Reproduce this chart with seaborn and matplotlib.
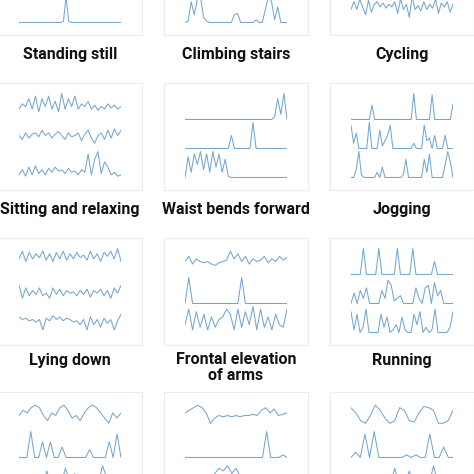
import matplotlib
matplotlib.use("Agg")
import matplotlib.pyplot as plt
import seaborn as sns
import pandas as pd

sns.set_style("white")
plt.rcParams['font.family'] = ['Roboto', 'DejaVu Sans']

titles = ["Standing still", "Climbing stairs", "Cycling",
          "Sitting and relaxing", "Waist bends forward", "Jogging",
          "Lying down", "Frontal elevation\nof arms", "Running"]

# row 1 (only the lowest trace is visible)
standing = [[0, 0, 0, 0, 0, 0, 0, 0, 0, 0, 0, 0, 0, 0, 0, 0, 0, 0.05, 1.0, 0.05, 0, 0, 0, 0, 0, 0, 0, 0, 0, 0, 0, 0, 0, 0, 0, 0, 0, 0, 0, 0]]
stairs = [[0, 0.05, 0.8, 0.3, 0.9, 1.0, 0.2, 0.05, 0, 0, 0, 0, 0, 0, 0, 0, 0.3, 0.35, 0, 0, 0, 0, 0, 0.1, 0, 0, 0.5, 1.0, 0.8, 0.1, 0.6, 0, 0, 0]]
cycling = [[0.5, 0.8, 0.5, 0.9, 0.6, 0.3, 0.85, 0.4, 0.7, 0.8, 0.6, 0.75, 0.55, 0.7, 0.6, 0.8, 0.35, 0.9, 0.5, 0.7, 0.2, 1.0, 0.5, 0.65, 0.45, 0.8, 0.5, 0.7, 0.55, 0.9, 0.35, 0.75, 0.6, 0.8, 0.4, 0.7]]

# row 2
sitting = [[0.4, 0.6, 0.5, 0.8, 0.4, 0.9, 0.3, 0.8, 0.5, 0.9, 0.4, 0.7, 0.3, 1.0, 0.4, 0.8, 0.5, 0.9, 0.4, 0.6, 0.5, 0.7, 0.4, 0.55, 0.35, 0.5, 0.4, 0.6, 0.45, 0.55, 0.4, 0.5],
           [0.5, 0.35, 0.6, 0.4, 0.55, 0.6, 0.45, 0.7, 0.5, 0.6, 0.4, 0.55, 0.65, 0.5, 0.35, 0.6, 0.45, 0.5, 0.6, 0.3, 0.55, 0.7, 0.4, 0.2, 0.5, 0.6, 0.35, 0.7, 0.4, 0.75, 0.5, 0.7],
           [0.1, 0.3, 0.05, 0.4, 0.1, 0.45, 0.15, 0.3, 0.1, 0.35, 0.2, 0.4, 0.25, 0.3, 0.15, 0.35, 0.2, 0.25, 0.1, 0.3, 0.2, 0.9, 0.1, 0.7, 1.0, 0.15, 0.6, 0.4, 0.1, 0.2, 0.05, 0.1]]
waist = [[0, 0, 0, 0, 0, 0, 0, 0, 0, 0, 0, 0, 0, 0, 0, 0, 0, 0, 0, 0, 0, 0, 0, 0, 0, 0, 0, 0, 0, 0.1, 0.8, 0.2, 1.0, 0.0],
         [0, 0, 0, 0, 0, 0, 0, 0, 0, 0, 0, 0, 0, 0, 0, 0.5, 0, 0, 0, 0, 0, 0, 1.0, 0, 0, 0, 0, 0, 0, 0, 0, 0, 0, 0],
         [0, 0.8, 0.2, 0.9, 0.5, 1.0, 0.3, 0.9, 0.2, 1.0, 0.4, 0.9, 0.2, 0.7, 0.05, 0, 0, 0, 0, 0, 0, 0, 0, 0, 0, 0, 0, 0, 0, 0, 0, 0, 0, 0]]
jogging = [[0, 0, 0, 0, 0, 0, 0, 0, 0.55, 0, 0, 0, 0, 0, 0, 0, 0, 0, 0, 0, 0, 0, 0, 0, 1.0, 0, 0, 0, 0, 0, 0, 0.95, 0, 0, 0, 0, 0, 0, 0, 0.6],
           [0.9, 0.2, 0.6, 0, 0, 0, 0, 1.0, 0, 0, 0, 0.7, 0.1, 0.3, 0.5, 0.9, 0, 0, 0, 0, 0, 0, 0, 0, 0.2, 0, 0, 0, 0.9, 0.3, 0.4, 0, 0.5, 0, 0, 0, 0.5, 0, 0, 0],
           [0, 0, 0.3, 1.0, 0.1, 0, 0, 0, 0, 0, 0.2, 0, 0.4, 0, 0, 0, 0, 0, 0, 0, 0.1, 0.7, 0, 0, 0, 0, 0, 0, 0.7, 0.2, 0.9, 0, 0, 0, 0, 0, 0.5, 1.0, 0.6, 0]]

# row 3
lying = [[0.6, 0.9, 0.5, 0.85, 0.6, 0.8, 0.65, 0.9, 0.55, 0.8, 0.5, 0.85, 0.6, 0.9, 0.55, 0.8, 0.6, 0.85, 0.65, 0.75, 0.55, 0.9, 0.6, 0.8, 0.5, 0.85, 0.7, 0.9, 0.6, 1.0, 0.5],
         [0.7, 0.2, 0.6, 0.3, 0.5, 0.35, 0.6, 0.3, 0.4, 0.2, 0.6, 0.35, 0.55, 0.3, 0.5, 0.4, 0.45, 0.3, 0.5, 0.35, 0.55, 0.25, 0.5, 0.4, 0.55, 0.3, 0.5, 0.2, 0.6, 0.4, 0.7],
         [0.6, 0.5, 0.55, 0.45, 0.5, 0.4, 0.5, 0.1, 0.55, 0.45, 0.65, 0.5, 0.6, 0.45, 0.55, 0.5, 0.4, 0.45, 0.3, 0.5, 0.1, 0.6, 0.3, 0.5, 0.2, 0.55, 0.35, 0.5, 0.1, 0.45, 0.7]]
frontal = [[0.5, 0.7, 0.4, 0.6, 0.5, 0.45, 0.5, 0.4, 0.35, 0.45, 0.5, 0.55, 0.9, 0.6, 0.8, 0.5, 0.7, 0.4, 0.6, 0.5, 0.55, 0.7, 0.45, 0.6, 0.5, 0.7, 0.55, 0.65],
           [0, 1.0, 0, 0, 0, 0, 0, 0, 0, 0, 0, 0, 0, 0, 0, 1.0, 0, 0, 0, 0, 0, 0, 0, 0, 0, 0, 0, 0],
           [0.3, 0.9, 0.1, 0.8, 0.2, 0.7, 0.1, 0.6, 0.2, 0.5, 0.6, 0.9, 0.7, 0.1, 0.9, 0.2, 0.8, 0.3, 1.0, 0.1, 0.9, 0.2, 0.6, 0.1, 0.7, 0.3, 0.2, 0.9]]
running = [[0, 0, 0, 0, 1.0, 0, 0, 0, 0, 1.0, 0, 0, 0, 0, 0, 1.0, 0, 0, 0, 0, 1.0, 0, 0, 0, 0, 0, 0, 0.5, 0, 0, 0, 0, 0, 0],
           [0, 0.4, 0, 0.5, 0.2, 0.6, 0, 0, 0, 0, 0.5, 0.2, 0.9, 0.7, 0.1, 0.2, 0.3, 0, 0, 0, 0, 0.6, 0.2, 0, 0.6, 0.7, 0, 0.8, 0.3, 0.5, 0, 0, 0, 0],
           [0.8, 0.1, 0.7, 0, 0.2, 0.9, 0, 0, 0, 0, 0.7, 0.2, 0.6, 0, 0.1, 0.3, 0, 0.6, 0.1, 0, 0, 0.7, 0.3, 0.8, 0, 0.2, 0, 0.1, 0.9, 0, 0, 0, 0, 0.2, 0.8]]

# row 4 (lowest trace is cut off by the figure edge)
row4a = [[0.5, 0.7, 0.6, 0.8, 0.9, 0.8, 0.5, 0.3, 0.6, 0.5, 0.8, 0.9, 0.7, 0.4, 0.5, 0.3, 0.6, 0.8, 0.9, 0.8, 0.6, 0.4, 0.2, 0.6, 0.4, 0.6],
         [0, 0, 0, 1.0, 0, 0, 0.6, 0, 0.6, 0, 0, 0.4, 0, 0, 0, 0, 0, 0, 0.3, 0, 0, 0, 0, 0.6, 0, 0.9, 0],
         [0, 0, 0.2, 0, 0.1, 0, 0.6, 0, 0.3, 0, 0.7, 0.2, 0.5, 0, 0, 0, 0, 0, 0.8, 0.3, 0, 0, 0]]
row4b = [[0.6, 0.7, 0.8, 0.9, 0.8, 0.6, 0.2, 0.4, 0.5, 0.45, 0.5, 0.45, 0.5, 0.45, 0.5, 0.5, 0.55, 0.5, 0.7, 0.8, 0.6, 0.75, 0.5, 0.55, 0.6],
         [0, 0, 0, 0, 0, 0, 0, 0, 0, 0, 0, 0, 0, 0, 0, 0, 0, 0, 0, 0, 1.0, 0, 0, 0, 0.1, 0],
         [0, 0, 0, 0, 0, 0, 0, 0.5, 0.7, 0.6, 0.8, 0.5, 0.7, 0.4, 0, 0, 0, 0, 0, 0, 0, 0, 0, 0, 0]]
row4c = [[0.8, 0.6, 0.3, 0.2, 0.5, 0.9, 0.7, 0.4, 0.2, 0.3, 0.8, 0.7, 0.3, 0.25, 0.6, 0.85, 0.8, 0.7, 0.2, 0.2, 0.3, 0.7],
         [0, 0.2, 0, 0.9, 0, 1.0, 0, 0, 0, 0, 0, 0, 0.1, 0, 0.1, 0, 0, 0.9, 0, 0, 0.4, 0, 0],
         [0, 0, 0, 0, 0.3, 0, 0, 0, 0, 0.7, 0, 0, 0.6, 0, 0, 0, 0, 0.8, 0, 0, 0, 0]]

panels = [standing, stairs, cycling, sitting, waist, jogging, lying, frontal, running, row4a, row4b, row4c]

W = H = 474
fig = plt.figure(figsize=(4.74, 4.74), dpi=100)
line_color = "#76a6cd"
col_x = [-2, 164, 330]
row_y = [-72, 83, 238, 392]
box_w, box_h = 144, 107
title_y = [55, 210, 360]


def px_axes(x, y, w, h):
    return fig.add_axes([x / W, 1 - (y + h) / H, w / W, h / H])


for i, traces in enumerate(panels):
    r, c = divmod(i, 3)
    bx, by = col_x[c], row_y[r]
    box = px_axes(bx, by, box_w, box_h)
    box.set_xticks([]); box.set_yticks([])
    for s in box.spines.values():
        s.set_color("#ececec"); s.set_linewidth(0.8)
    # traces fill the bands from the bottom up
    bases = [by + 36, by + 65, by + 94][3 - len(traces):]
    for base, vals in zip(bases, traces):
        ax = px_axes(bx + 21, base - 26, 102, 27)
        df = pd.DataFrame({"t": range(len(vals)), "v": vals})
        sns.lineplot(data=df, x="t", y="v", ax=ax, color=line_color, linewidth=0.75)
        ax.set_xlim(0, len(vals) - 1)
        ax.set_ylim(-0.02, 1.02)
        ax.axis("off")
    if r < 3:
        two = "\n" in titles[i]
        ty = title_y[r] - (8 if two else 0)
        fig.text((bx + box_w / 2) / W, 1 - ty / H, titles[i], ha="center",
                 va="top" if two else "center", fontsize=11.5, weight="semibold",
                 color="#111111", linespacing=1.1)

fig.savefig("out.png", dpi=100, facecolor="white")
